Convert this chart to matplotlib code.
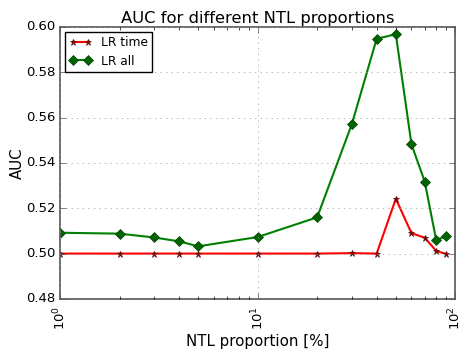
import matplotlib

matplotlib.use("Agg")
import matplotlib.pyplot as plt

# NTL proportion [%] and AUC per model
proportions = [1, 2, 3, 4, 5, 10, 20, 30, 40, 50, 60, 70, 80, 90]
auc_lr_time = [0.500, 0.500, 0.500, 0.500, 0.500, 0.500, 0.500, 0.5002, 0.500,
               0.5242, 0.509, 0.507, 0.5012, 0.4998]
auc_lr_all = [0.5092, 0.5088, 0.5071, 0.5054, 0.5032, 0.5073, 0.5160, 0.5573, 0.5948,
              0.5968, 0.5482, 0.5318, 0.5060, 0.5077]

plt.style.use("classic")
fig = plt.figure(figsize=(4.74, 3.55), dpi=100)
ax = fig.add_axes([0.1266, 0.158, 0.834, 0.766])

ax.plot(proportions, auc_lr_time, color="r", lw=1.5, marker="*", ms=5,
        mfc="#8b0000", mec="#5a1010", label="LR time")
ax.plot(proportions, auc_lr_all, color="g", lw=1.5, marker="D", ms=5,
        mfc="#006400", mec="#004000", label="LR all")

ax.set_xscale("log")
ax.set_xlim(1, 100)
ax.set_ylim(0.48, 0.60)
ax.set_yticks([0.48, 0.50, 0.52, 0.54, 0.56, 0.58, 0.60])
ax.grid(True, linestyle=":", color="#999999")
for spine in ax.spines.values():
    spine.set_color("#555555")
    spine.set_linewidth(1.2)
for lbl in ax.get_xticklabels():
    lbl.set_rotation(90)
ax.tick_params(labelsize=9.5, color="#555555")
ax.tick_params(axis="x", pad=5)
ax.tick_params(axis="y", pad=3)

ax.set_title("AUC for different NTL proportions", fontsize=11.8, pad=3)
ax.set_xlabel("NTL proportion [%]", fontsize=10.8, labelpad=3)
ax.set_ylabel("AUC", fontsize=10.8, labelpad=1)
ax.legend(loc="upper left", fontsize=8.8, numpoints=2, handlelength=1.8,
          borderpad=0.35, labelspacing=0.45, handletextpad=0.8,
          borderaxespad=0.4)

fig.savefig("out.png")
